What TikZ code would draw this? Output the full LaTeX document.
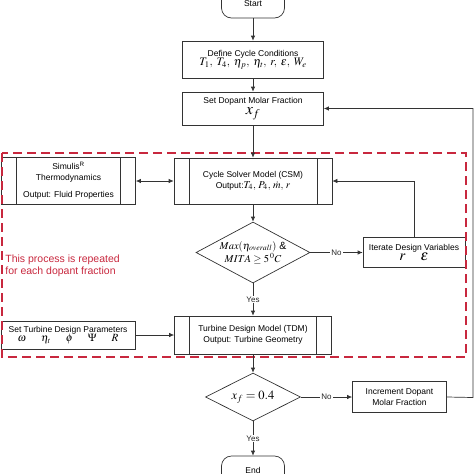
\documentclass[tikz,border=0pt]{standalone}
\usepackage{amsmath}
\usepackage{mathptmx}
\usepackage[no-math]{fontspec}
\setmainfont{Liberation Sans}
\usetikzlibrary{arrows.meta,shapes.geometric,positioning}

\definecolor{repeatred}{RGB}{200,40,62}

\begin{document}
\begin{tikzpicture}[x=1pt,y=-1pt,on grid,line width=0.7pt,>={Latex[length=5pt,width=4.5pt]}]
  \tikzstyle{box} = [draw=black!80, rectangle, fill=white, align=center, inner sep=2pt, font={\fontsize{8.5}{10.5}\selectfont}]
  \tikzstyle{process} = [box, path picture={\draw[black!80] ([xshift=15pt]path picture bounding box.north west) -- ([xshift=15pt]path picture bounding box.south west) ([xshift=-15pt]path picture bounding box.north east) -- ([xshift=-15pt]path picture bounding box.south east);}]
  \tikzstyle{term} = [box, rounded corners=10pt, minimum width=63pt, minimum height=28pt]
  \tikzstyle{decision} = [draw=black!80, diamond, aspect=1.9, inner sep=0pt, fill=white, align=center, font={\fontsize{10.5}{13}\selectfont}]
  \tikzstyle{flow} = [black!80,->]
  \tikzstyle{edgeLabel} = [pos=0.5, fill=white, inner sep=1pt, text=black!85, font={\fontsize{8}{9}\selectfont}]
  \tikzstyle{repeatline} = [repeatred, line width=1.6pt, dash pattern=on 9pt off 5pt]

  \useasboundingbox (0,0) rectangle (474,474);
  \clip (0,0) rectangle (474,474);

  % main column
  \node[term](start) at (253,4) {Start};
  \node[box, minimum width=141pt, minimum height=37pt](def) [below=55.5pt of start]
    {Define Cycle Conditions\\[-1pt] {\fontsize{11.5}{12}\selectfont $T_1,\; T_4,\; \eta_p,\; \eta_t,\; r,\; \epsilon,\; W_e$}};
  \node[box, minimum width=141pt, minimum height=33pt](xf) [below=49pt of def]
    {Set Dopant Molar Fraction\\[1pt] {\fontsize{16}{14}\selectfont $x_f$}};
  \node[process, minimum width=158pt, minimum height=46pt](csm) [below=72.5pt of xf]
    {Cycle Solver Model (CSM)\\ Output:{\fontsize{10.5}{11}\selectfont$T_4,\, P_4,\, \dot{m},\, r$}};
  \node[decision, minimum width=114pt, minimum height=61pt](opt) [below=71.5pt of csm]
    {$Max(\eta_{overall})$ \&\\ $MITA \geq 5\,^{0}C$};
  \node[process, minimum width=157pt, minimum height=38pt](tdm) [below=82.5pt of opt]
    {Turbine Design Model (TDM)\\ Output: Turbine Geometry};
  \node[decision, minimum width=95pt, minimum height=48pt, font={\fontsize{12.5}{14}\selectfont}](conv) [below=62pt of tdm]
    {$x_f = 0.4$};
  \node[term](end) [below=73pt of conv] {End};

  % side boxes
  \node[process, minimum width=134pt, minimum height=47pt](sim) [left=184.5pt of csm]
    {Simulis\textsuperscript{R}\\ Thermodynamics\\[7pt] Output: Fluid Properties};
  \node[box, minimum width=102pt, minimum height=30pt](iter) [right=161pt of opt]
    {Iterate Design Variables\\[-1pt] {\fontsize{15}{13}\selectfont $r \quad \epsilon$}};
  \node[box, minimum width=134pt, minimum height=28pt](tdp) [left=185pt of tdm]
    {Set Turbine Design Parameters\\[-1pt] {\fontsize{11}{11}\selectfont $\omega \hspace{15pt} \eta_t \hspace{15pt} \phi \hspace{15pt} \Psi \hspace{15pt} R$}};
  \node[box, minimum width=94pt, minimum height=31pt](inc) [right=146.5pt of conv]
    {Increment Dopant\\ Molar Fraction};

  % repeated region
  \draw[repeatline] (2,153) rectangle (466,357);
  \node[anchor=north west, align=left, inner sep=0pt, text=repeatred, font={\fontsize{10.5}{12}\selectfont}](rep) at (5,255)
    {This process is repeated\\ for each dopant fraction};

  \coordinate (back) at (473,397.5);

  \path[flow]
  (start) edge (def)
  (def) edge (xf)
  (xf) edge (csm)
  (csm) edge (opt)
  (opt) edge node[edgeLabel] {Yes} (tdm)
    edge node[edgeLabel] {No} (iter)
  (tdm) edge (conv)
  (conv) edge node[edgeLabel] {Yes} (end)
    edge node[edgeLabel] {No} (inc)
  (tdp) edge (tdm)
  (sim) edge [<->] (csm);
  \draw[flow] (iter.north) |- (csm.east);
  \draw[flow] (inc.east) -- (back) |- (xf.east);
\end{tikzpicture}
\end{document}
